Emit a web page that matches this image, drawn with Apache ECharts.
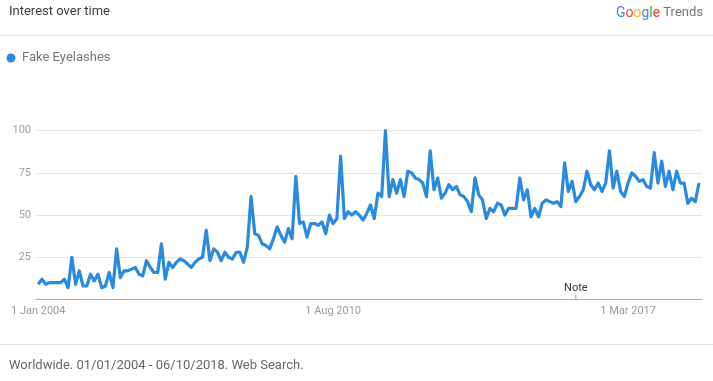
<!DOCTYPE html>
<html>
<head>
<meta charset="utf-8">
<script src="https://cdn.jsdelivr.net/npm/echarts@6/dist/echarts.min.js"></script>
<style>
html,body{margin:0;padding:0;background:#fff;}
#chart{width:713px;height:381px;}
</style>
</head>
<body>
<div id="chart"></div>
<script>
// Monthly search interest, Jan 2004 .. Oct 2018 (index 0 = Jan 2004)
const seriesName = 'Fake Eyelashes';
const values = [
  9, 12, 9, 10, 10, 10, 10, 12, 7, 25,
  9, 17, 8, 8, 15, 11, 15, 7, 8, 16,
  7, 30, 13, 17, 17, 18, 19, 15, 14, 23,
  19, 16, 16, 33, 12, 22, 19, 22, 24, 23,
  21, 19, 22, 24, 25, 41, 23, 30, 28, 23,
  28, 25, 24, 28, 28, 22, 31, 61, 39, 38,
  33, 32, 30, 36, 43, 38, 34, 42, 36, 73,
  45, 46, 37, 45, 45, 44, 46, 39, 50, 45,
  48, 85, 48, 52, 50, 52, 50, 47, 51, 56,
  48, 63, 61, 100, 61, 71, 63, 71, 61, 76,
  75, 72, 71, 69, 61, 88, 65, 72, 60, 63,
  68, 65, 67, 62, 61, 58, 52, 72, 62, 59,
  48, 54, 52, 57, 56, 50, 54, 54, 54, 72,
  59, 65, 49, 54, 49, 57, 59, 58, 57, 58,
  55, 81, 64, 70, 58, 61, 65, 76, 68, 65,
  69, 64, 69, 88, 66, 76, 64, 61, 69, 75,
  73, 70, 71, 67, 66, 87, 69, 82, 67, 76,
  65, 76, 69, 69, 57, 60, 58, 69
];
const tickIndices = [0, 79, 158];
const tickLabels = ['1 Jan 2004', '1 Aug 2010', '1 Mar 2017'];
const yTicks = [25, 50, 75, 100];
const noteIndex = 144;
const noteText = 'Note';
const titleText = 'Interest over time';
const footerText = 'Worldwide. 01/01/2004 - 06/10/2018. Web Search.';

const chart = echarts.init(document.getElementById('chart'), null, {renderer: 'canvas'});
const FONT = 'Roboto, "Noto Sans", sans-serif';
const BLUE = '#2a8ae0';

const option = {
  backgroundColor: '#fff',
  animation: false,
  grid: {left: 36, right: 11, top: 130.7, bottom: 81.5, containLabel: false},
  xAxis: {
    type: 'value',
    min: -0.6,
    max: 177.8,
    axisLine: {show: true, lineStyle: {color: '#a8a8a8', width: 1}},
    axisTick: {show: false},
    splitLine: {show: false},
    axisLabel: {
      customValues: tickIndices,
      formatter: function (v) {
        const k = tickIndices.indexOf(Math.round(v));
        return k >= 0 ? tickLabels[k] : '';
      },
      color: '#9a9a9a',
      fontFamily: FONT,
      fontSize: 11,
      margin: 6
    }
  },
  yAxis: {
    type: 'value',
    min: 0,
    max: 100,
    interval: 25,
    axisLine: {show: false},
    axisTick: {show: false},
    splitLine: {show: true, lineStyle: {color: '#e4e4e4', width: 1}},
    axisLabel: {
      formatter: function (v) { return yTicks.indexOf(v) >= 0 ? String(v) : ''; },
      color: '#a0a0a0',
      fontFamily: FONT,
      fontSize: 11,
      margin: 5
    }
  },
  series: [{
    name: seriesName,
    type: 'line',
    data: values.map(function (v, i) { return [i, v]; }),
    showSymbol: false,
    symbol: 'none',
    smooth: false,
    lineStyle: {color: BLUE, width: 3.2, join: 'round'},
    itemStyle: {color: BLUE},
    markPoint: {
      silent: true,
      data: [{
        coord: [noteIndex, 0],
        symbol: 'rect',
        symbolSize: [1, 5],
        symbolOffset: [0, -2.5],
        itemStyle: {color: '#9a9a9a'},
        label: {
          show: true,
          formatter: noteText,
          position: 'top',
          distance: 1,
          color: '#333',
          fontFamily: FONT,
          fontSize: 11
        }
      }]
    }
  }],
  graphic: [
    {type: 'text', left: 9, top: 5, style: {text: titleText, fill: '#3c3c3c', font: '13px ' + FONT}},
    {
      type: 'text', right: 10, top: 6,
      style: {
        text: '{b|G}{r|o}{y|o}{b|g}{g|l}{r|e} {t|Trends}',
        font: '13px ' + FONT,
        rich: {
          b: {fill: '#4285f4', font: '14px ' + FONT},
          r: {fill: '#ea4335', font: '14px ' + FONT},
          y: {fill: '#fbbc05', font: '14px ' + FONT},
          g: {fill: '#34a853', font: '14px ' + FONT},
          t: {fill: '#757575', font: '13px ' + FONT}
        }
      }
    },
    {type: 'line', shape: {x1: 0, y1: 35.5, x2: 713, y2: 35.5}, style: {stroke: '#e2e2e2', lineWidth: 1}},
    {type: 'circle', shape: {cx: 11, cy: 58, r: 4.5}, style: {fill: BLUE}},
    {type: 'text', left: 22, top: 51, style: {text: seriesName, fill: '#777', font: '13px ' + FONT}},
    {type: 'line', shape: {x1: 0, y1: 344.5, x2: 713, y2: 344.5}, style: {stroke: '#e2e2e2', lineWidth: 1}},
    {type: 'text', left: 9, top: 359, style: {text: footerText, fill: '#666', font: '13px ' + FONT}}
  ]
};
chart.setOption(option);
</script>
</body>
</html>
